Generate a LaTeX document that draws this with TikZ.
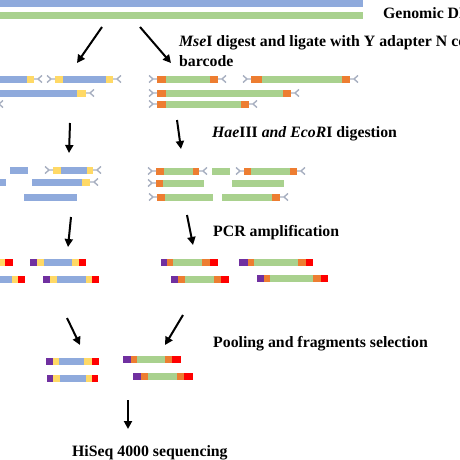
\documentclass[tikz,border=0pt]{standalone}
\usepackage{fontspec}
\setmainfont{Liberation Serif}
\usetikzlibrary{arrows.meta}
\definecolor{cb}{HTML}{8FAADC}
\definecolor{cg}{HTML}{A9D18E}
\definecolor{cy}{HTML}{FFD966}
\definecolor{co}{HTML}{ED7D31}
\definecolor{cr}{HTML}{FF0000}
\definecolor{cp}{HTML}{7030A0}
\definecolor{cad}{HTML}{A7AFC0}
\tikzset{
  adp/.style={draw=cad,line width=1.4pt},
  adl/.pic={\draw[adp] (-4,0) -- (0,0) (-8,-3.5) -- (-4,0) -- (-8,3.5);},
  adr/.pic={\draw[adp] (4,0) -- (0,0) (8,-3.5) -- (4,0) -- (8,3.5);},
  arr/.style={line width=2pt,-{Triangle[length=8pt,width=8pt]}},
  txt/.style={inner sep=0pt,anchor=base west,font=\fontsize{15.8}{18}\selectfont\bfseries}
}
\begin{document}
\begin{tikzpicture}[x=1pt,y=-1pt]
  \useasboundingbox (0,0) rectangle (460,460);
  \clip (0,0) rectangle (460,460);
  % genomic DNA
  \fill[cb] (0,0) rectangle (363,7);
  \fill[cg] (0,12) rectangle (363,19);
  \node[txt] (dna) at (383,19) {Genomic DNA};
  % fragments: from/to/row/colour
  \foreach \a/\b/\y/\c in {0/27/79/cb, 27/34/79/cy, 55/63/79/cy, 63/106/79/cb, 106/113/79/cy,
    0/77/93/cb, 77/86/93/cy,
    157/166/79/co, 166/210/79/cg, 210/218/79/co, 251/262/79/co, 262/342/79/cg, 342/350/79/co,
    157/166/93/co, 166/283/93/cg, 283/291/93/co,
    157/166/104/co, 166/241/104/cg, 241/249/104/co,
    % digestion
    10/28/170/cb, 53/61/170/cy, 61/87/170/cb, 87/93/170/cy,
    0/6/182/cb, 32/82/182/cb, 82/90/182/cy, 24/77/197/cb,
    156/164/171/co, 164/193/171/cg, 193/199/171/co, 212/230/171/cg, 244/251/171/co, 251/290/171/cg, 290/297/171/co,
    156/163/183/co, 163/204/183/cg, 232/284/183/cg,
    157/165/197/co, 165/213/197/cg, 222/272/197/cg, 272/280/197/co,
    % PCR
    0/5/262/cy, 5/13/262/cr, 30/37/262/cp, 37/44/262/cy, 44/72/262/cb, 72/79/262/cy, 79/86/262/cr,
    0/12/279/cb, 12/18/279/cy, 18/25/279/cr, 43/50/279/cp, 50/57/279/cy, 57/86/279/cb, 86/92/279/cy, 92/99/279/cr,
    161/167/262/cp, 167/173/262/co, 173/202/262/cg, 202/210/262/co, 210/218/262/cr,
    239/248/262/cp, 248/254/262/co, 254/298/262/cg, 298/306/262/co, 306/313/262/cr,
    171/178/279/cp, 178/185/279/co, 185/214/279/cg, 214/221/279/co, 221/229/279/cr,
    257/264/278/cp, 264/270/278/co, 270/313/278/cg, 313/321/278/co, 321/328/278/cr,
    % pooling
    46/53/361/cp, 53/59/361/cy, 59/84/361/cb, 84/92/361/cy, 92/99/361/cr,
    47/53/378/cp, 53/60/378/cy, 60/86/378/cb, 86/92/378/cy, 92/98/378/cr,
    123/131/359/cp, 131/137/359/co, 137/165/359/cg, 165/172/359/co, 172/181/359/cr,
    133/141/376/cp, 141/148/376/co, 148/177/376/cg, 177/184/376/co, 184/193/376/cr}
    \fill[\c] (\a,\y-3.5) rectangle (\b,\y+3.5);
  % Y adapters
  \foreach \x/\y in {55/79, 157/79, 251/79, 157/93, 157/104, 53/170, 156/171, 244/171, 156/183, 157/197}
    \pic at (\x,\y) {adl};
  \foreach \x/\y in {34/79, 113/79, 86/93, -5/104, 218/79, 350/79, 291/93, 249/104,
    93/170, 90/182, 199/171, 297/171, 280/197}
    \pic at (\x,\y) {adr};
  % arrows
  \foreach \n/\p/\q in {1/{(102,27)}/{(77,63)}, 2/{(140,27)}/{(171,63)}, 3/{(70,123)}/{(69,153)},
    4/{(177,120)}/{(181,149)}, 5/{(71,217)}/{(68,247)}, 6/{(187,215)}/{(193,245)},
    7/{(67,318)}/{(80,345)}, 8/{(183,315)}/{(165,345)}, 9/{(128,400)}/{(128,429)}}{
    \path \p coordinate (s\n) \q coordinate (e\n);
    \draw[arr] (s\n) -- (e\n);
  }
  % steps
  \node[txt] (mse) at (179,46.5) {\textit{Mse}I digest and ligate with Y adapter N containing};
  \node[txt] (bar) at ([yshift=-20pt]mse.base west) {barcode};
  \node[txt] (hae) at (212,137) {\textit{Hae}III \textit{and EcoR}I digestion};
  \node[txt] (pcr) at (213,236) {PCR amplification};
  \node[txt] (pool) at (213,347) {Pooling and fragments selection};
  \node[txt] (seq) at (72,456.5) {HiSeq 4000 sequencing};
\end{tikzpicture}
\end{document}
